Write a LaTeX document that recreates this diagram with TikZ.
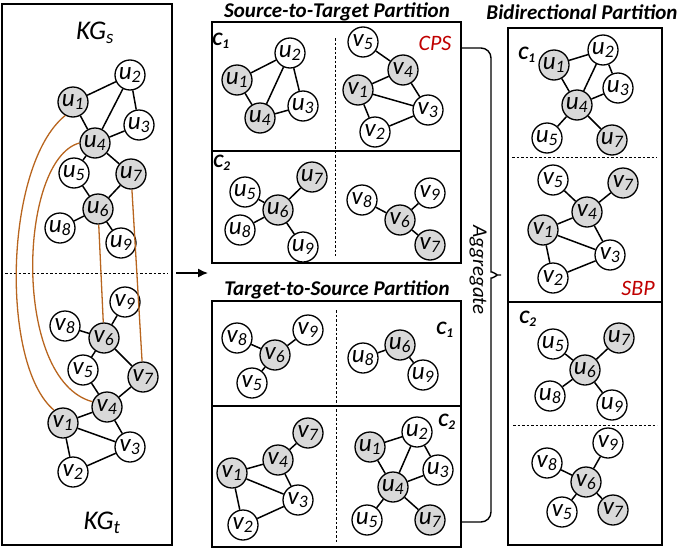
\documentclass[tikz,border=0pt]{standalone}
\usepackage{fontspec}
\setmainfont{Carlito}
\usetikzlibrary{arrows.meta}
\definecolor{gfill}{HTML}{D9D9D9}
\definecolor{brownc}{HTML}{B8651E}
\definecolor{redc}{HTML}{C00000}
\newcommand\lbl[2]{\textit{#1\textsubscript{#2}}}
\begin{document}
\begin{tikzpicture}[x=1pt,y=-1pt,
  wn/.style={circle,draw,line width=1.3pt,fill=white,minimum size=30pt,inner sep=0pt,font=\fontsize{25}{25}\selectfont},
  gn/.style={wn,fill=gfill},
  ed/.style={line width=1.5pt},
  box/.style={draw,line width=1.4pt},
  dsh/.style={dashed,line width=0.9pt,dash pattern=on 2.5pt off 2pt},
  ttl/.style={font=\fontsize{21}{21}\selectfont\bfseries\itshape},
  clab/.style={font=\fontsize{19}{19}\selectfont\bfseries\itshape,inner sep=0pt},
  redlab/.style={font=\fontsize{22}{22}\selectfont\itshape,text=redc,inner sep=0pt},
  kg/.style={font=\fontsize{27}{27}\selectfont\itshape,inner sep=0pt},
  bc/.style={brownc,line width=1.3pt}]
\useasboundingbox (0,0) rectangle (685,549);

% ---------- left panel ----------
\draw[box] (2,4) rectangle (172,545);
\draw[dsh] (5,273) -- (168,273);
\node[kg] (kgs) at (95,33) {KG\textsubscript{s}};
\node[kg] (kgt) at (102,523) {KG\textsubscript{t}};

\node[gn] (su1) at (73,102) {\lbl{u}{1}};
\node[wn] (su2) at (130,75) {\lbl{u}{2}};
\node[wn] (su3) at (139,125) {\lbl{u}{3}};
\node[gn] (su4) at (95,143) {\lbl{u}{4}};
\node[wn] (su5) at (74,173) {\lbl{u}{5}};
\node[gn] (su7) at (131,174) {\lbl{u}{7}};
\node[gn] (su6) at (98,209) {\lbl{u}{6}};
\node[wn] (su8) at (60,228) {\lbl{u}{8}};
\node[wn] (su9) at (121,243) {\lbl{u}{9}};

\node[wn] (tv9) at (125,302) {\lbl{v}{9}};
\node[wn] (tv8) at (65,326) {\lbl{v}{8}};
\node[gn] (tv6) at (104,338) {\lbl{v}{6}};
\node[wn] (tv5) at (83,370) {\lbl{v}{5}};
\node[gn] (tv7) at (143,377) {\lbl{v}{7}};
\node[gn] (tv4) at (107,407) {\lbl{v}{4}};
\node[gn] (tv1) at (63,423) {\lbl{v}{1}};
\node[wn] (tv3) at (130,447) {\lbl{v}{3}};
\node[wn] (tv2) at (73,472) {\lbl{v}{2}};

\foreach \a/\b in {su1/su2,su1/su4,su2/su4,su2/su3,su3/su4,su4/su5,su4/su7,su5/su6,su7/su6,su6/su8,su6/su9,
  tv9/tv6,tv8/tv6,tv6/tv5,tv6/tv7,tv5/tv4,tv7/tv4,tv4/tv1,tv4/tv3,tv1/tv3,tv1/tv2,tv2/tv3}
  \draw[ed] (\a) -- (\b);

\draw[bc] (su1.240) .. controls (4,165) and (0,365) .. (tv1.125);
\draw[bc] (su4.180) .. controls (18,160) and (12,380) .. (tv4.160);
\draw[bc] (su6) -- (tv6);
\draw[bc] (su7) -- (tv7);

% arrow
\coordinate (arA) at (176,273);
\coordinate (arB) at (208,273);
\draw[line width=1.4pt,-{Latex[length=10pt,width=9pt]}] (arA) -- (arB);

% ---------- middle top ----------
\node[ttl] (t1) at (337,12) {Source-to-Target Partition};
\draw[box] (212,22) rectangle (461,263);
\draw[box] (212,151) -- (461,151);
\draw[dsh] (335,38) -- (335,256);
\node[clab] (c1a) at (221,41) {C\textsubscript{1}};
\node[clab] (c2a) at (222,163) {C\textsubscript{2}};
\node[redlab] (cps) at (435,43) {CPS};

\node[gn] (au1) at (237,80) {\lbl{u}{1}};
\node[wn] (au2) at (290,53) {\lbl{u}{2}};
\node[wn] (au3) at (303,106) {\lbl{u}{3}};
\node[gn] (au4) at (260,118) {\lbl{u}{4}};
\node[wn] (av5) at (363,42) {\lbl{v}{5}};
\node[gn] (av4) at (403,70) {\lbl{v}{4}};
\node[gn] (av1) at (358,90) {\lbl{v}{1}};
\node[wn] (av3) at (428,110) {\lbl{v}{3}};
\node[wn] (av2) at (375,132) {\lbl{v}{2}};

\node[wn] (au5) at (245,192) {\lbl{u}{5}};
\node[gn] (au7) at (312,177) {\lbl{u}{7}};
\node[gn] (au6) at (278,210) {\lbl{u}{6}};
\node[wn] (au8) at (240,230) {\lbl{u}{8}};
\node[wn] (au9) at (303,247) {\lbl{u}{9}};
\node[wn] (av8) at (362,200) {\lbl{v}{8}};
\node[wn] (av9) at (430,193) {\lbl{v}{9}};
\node[gn] (av6) at (400,220) {\lbl{v}{6}};
\node[gn] (av7) at (430,245) {\lbl{v}{7}};

\foreach \a/\b in {au1/au2,au1/au4,au2/au4,au2/au3,au3/au4,
  av5/av4,av4/av1,av4/av3,av1/av3,av1/av2,av2/av3,
  au5/au6,au7/au6,au8/au6,au9/au6,av8/av6,av9/av6,av6/av7}
  \draw[ed] (\a) -- (\b);

% ---------- middle bottom ----------
\node[ttl] (t2) at (337,290) {Target-to-Source Partition};
\draw[box] (212,301) rectangle (461,547);
\draw[box] (212,406) -- (461,406);
\draw[dsh] (336,310) -- (336,543);
\node[clab] (c1b) at (445,330) {C\textsubscript{1}};
\node[clab] (c2b) at (447,422) {C\textsubscript{2}};

\node[wn] (cv8) at (237,338) {\lbl{v}{8}};
\node[wn] (cv9) at (308,330) {\lbl{v}{9}};
\node[gn] (cv6) at (275,355) {\lbl{v}{6}};
\node[wn] (cv5) at (252,383) {\lbl{v}{5}};
\node[gn] (cu6) at (400,345) {\lbl{u}{6}};
\node[wn] (cu8) at (363,358) {\lbl{u}{8}};
\node[wn] (cu9) at (423,375) {\lbl{u}{9}};

\node[gn] (cv7) at (308,433) {\lbl{v}{7}};
\node[gn] (cv4) at (278,460) {\lbl{v}{4}};
\node[gn] (cv1) at (232,473) {\lbl{v}{1}};
\node[wn] (cv3) at (298,500) {\lbl{v}{3}};
\node[wn] (cv2) at (243,525) {\lbl{v}{2}};
\node[wn] (cu2) at (417,432) {\lbl{u}{2}};
\node[gn] (cu1) at (370,447) {\lbl{u}{1}};
\node[wn] (cu3) at (438,470) {\lbl{u}{3}};
\node[gn] (cu4) at (393,487) {\lbl{u}{4}};
\node[wn] (cu5) at (367,520) {\lbl{u}{5}};
\node[gn] (cu7) at (430,520) {\lbl{u}{7}};

\foreach \a/\b in {cv8/cv6,cv9/cv6,cv5/cv6,cu8/cu6,cu6/cu9,
  cv7/cv4,cv4/cv1,cv4/cv3,cv1/cv3,cv1/cv2,cv2/cv3,
  cu1/cu2,cu1/cu4,cu2/cu4,cu2/cu3,cu3/cu4,cu4/cu5,cu4/cu7}
  \draw[ed] (\a) -- (\b);

% ---------- brace ----------
\coordinate (brT) at (461,48);
\coordinate (brB) at (461,522);
\coordinate (brTip) at (507,275);
\draw[line width=1.4pt,rounded corners=10pt] (brT) -| (491,262)
  .. controls (491,271) and (498,275) .. (brTip)
  .. controls (498,275) and (491,279) .. (491,288)
  |- (brB);
\node[font=\fontsize{21}{21}\selectfont\itshape,rotate=-90] (agg) at (478,270) {Aggregate};

% ---------- right panel ----------
\node[ttl] (t3) at (582,12) {Bidirectional Partition};
\draw[box] (508,28) rectangle (662,545);
\draw[box] (508,302) -- (662,302);
\draw[dsh] (512,157) -- (657,157);
\draw[dsh] (513,425) -- (657,425);
\node[clab] (c1c) at (527,55) {C\textsubscript{1}};
\node[clab] (c2c) at (528,319) {C\textsubscript{2}};
\node[redlab] (sbp) at (638,288) {SBP};

\node[gn] (bu1) at (554,65) {\lbl{u}{1}};
\node[wn] (bu2) at (603,50) {\lbl{u}{2}};
\node[wn] (bu3) at (618,88) {\lbl{u}{3}};
\node[gn] (bu4) at (577,105) {\lbl{u}{4}};
\node[wn] (bu5) at (547,138) {\lbl{u}{5}};
\node[gn] (bu7) at (612,140) {\lbl{u}{7}};
\node[wn] (bv5) at (553,180) {\lbl{v}{5}};
\node[gn] (bv7) at (623,183) {\lbl{v}{7}};
\node[gn] (bv4) at (587,212) {\lbl{v}{4}};
\node[gn] (bv1) at (543,230) {\lbl{v}{1}};
\node[wn] (bv3) at (610,255) {\lbl{v}{3}};
\node[wn] (bv2) at (553,278) {\lbl{v}{2}};

\node[wn] (bu5b) at (553,344) {\lbl{u}{5}};
\node[gn] (bu7b) at (619,338) {\lbl{u}{7}};
\node[gn] (bu6) at (585,370) {\lbl{u}{6}};
\node[wn] (bu8) at (550,396) {\lbl{u}{8}};
\node[wn] (bu9) at (612,405) {\lbl{u}{9}};
\node[wn] (bv9) at (608,443) {\lbl{v}{9}};
\node[wn] (bv8) at (547,463) {\lbl{v}{8}};
\node[gn] (bv6) at (586,482) {\lbl{v}{6}};
\node[wn] (bv5b) at (562,512) {\lbl{v}{5}};
\node[gn] (bv7b) at (613,510) {\lbl{v}{7}};

\foreach \a/\b in {bu1/bu2,bu1/bu4,bu2/bu4,bu2/bu3,bu3/bu4,bu4/bu5,bu4/bu7,
  bv5/bv4,bv7/bv4,bv4/bv1,bv4/bv3,bv1/bv3,bv1/bv2,bv2/bv3,
  bu5b/bu6,bu7b/bu6,bu8/bu6,bu9/bu6,bv9/bv6,bv8/bv6,bv5b/bv6,bv7b/bv6}
  \draw[ed] (\a) -- (\b);
\end{tikzpicture}
\end{document}
